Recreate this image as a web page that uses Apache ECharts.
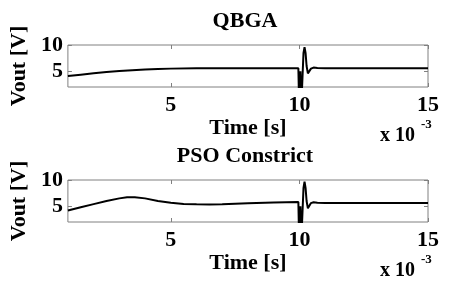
<!DOCTYPE html>
<html><head><meta charset="utf-8">
<script src="https://cdn.jsdelivr.net/npm/echarts@6/dist/echarts.min.js"></script>
<style>html,body{margin:0;padding:0;background:#fff}#c{width:474px;height:284px}</style>
</head><body><div id="c"></div>
<script>
// time in units of 1e-3 s
var qbgaT = [1, 1.5, 2, 2.5, 3, 3.5, 4, 4.5, 5, 6, 7, 8, 9, 9.96, 9.98, 10.0, 10.02, 10.04, 10.06, 10.08, 10.1, 10.13, 10.16, 10.2, 10.24, 10.28, 10.33, 10.38, 10.45, 10.55, 10.7, 11, 12, 13, 14, 15];
var qbgaV = [4.1, 4.35, 4.6, 4.85, 5.05, 5.2, 5.32, 5.42, 5.5, 5.55, 5.55, 5.55, 5.55, 5.55, 1, 5, 1, 5, 1, 4, 1.5, 5, 8.5, 9.6, 8.5, 6, 4.6, 4.9, 5.5, 5.7, 5.6, 5.55, 5.55, 5.55, 5.55, 5.55];
var psoT = [1, 1.5, 2, 2.5, 3, 3.3, 3.6, 4, 4.5, 5, 5.5, 6, 6.5, 7, 8, 9, 9.96, 9.98, 10.0, 10.02, 10.04, 10.06, 10.08, 10.1, 10.13, 10.16, 10.2, 10.24, 10.28, 10.33, 10.38, 10.45, 10.55, 10.7, 11, 12, 13, 14, 15];
var psoV = [4.2, 4.8, 5.4, 6.0, 6.5, 6.72, 6.72, 6.5, 6.0, 5.65, 5.45, 5.38, 5.35, 5.38, 5.55, 5.72, 5.8, 1, 5, 1, 5, 1, 4, 1.5, 5, 8.5, 9.7, 8.5, 6, 4.6, 4.9, 5.6, 5.75, 5.65, 5.62, 5.6, 5.6, 5.6, 5.6];
var xTicks = [5, 10, 15];
var yTicks = [5, 10];
var titles = ['QBGA', 'PSO Constrict'];
var xName = 'Time [s]';
var yName = 'Vout [V]';
var expBase = 'x 10';
var expPow = '-3';

var FONT = '"Liberation Serif", serif';
var GRAY = '#808080';
var gridTops = [45, 180];
var chart = echarts.init(document.getElementById('c'), null, {renderer: 'canvas'});
var grids = [], xAxes = [], yAxes = [], series = [], graphics = [];
var datas = [[qbgaT, qbgaV], [psoT, psoV]];
for (var i = 0; i < 2; i++) {
  grids.push({left: 61, top: gridTops[i], width: 367, height: 42, show: true, borderColor: GRAY, borderWidth: 1, backgroundColor: '#fff'});
  var baseX = {type: 'value', gridIndex: i, min: 1, max: 15,
    axisLine: {show: false}, splitLine: {show: false},
    axisTick: {show: true, inside: true, length: 4, lineStyle: {color: GRAY}, customValues: xTicks}};
  xAxes.push(Object.assign({}, baseX, {position: 'bottom',
    axisLabel: {show: true, customValues: xTicks, color: '#000', fontFamily: FONT, fontWeight: 'bold', fontSize: 22, margin: 7},
    name: xName, nameLocation: 'middle', nameGap: 27,
    nameTextStyle: {color: '#000', fontFamily: FONT, fontWeight: 'bold', fontSize: 22}}));
  xAxes.push(Object.assign({}, baseX, {position: 'top', axisLabel: {show: false}}));
  var baseY = {type: 'value', gridIndex: i, min: 2, max: 10,
    axisLine: {show: false}, splitLine: {show: false},
    axisTick: {show: true, inside: true, length: 4, lineStyle: {color: GRAY}, customValues: yTicks}};
  yAxes.push(Object.assign({}, baseY, {position: 'left',
    axisLabel: {show: true, customValues: yTicks, color: '#000', fontFamily: FONT, fontWeight: 'bold', fontSize: 22, margin: 5},
    name: yName, nameLocation: 'middle', nameGap: 34, nameRotate: 90,
    nameTextStyle: {color: '#000', fontFamily: FONT, fontWeight: 'bold', fontSize: 22}}));
  yAxes.push(Object.assign({}, baseY, {position: 'right', axisLabel: {show: false}}));
  var pts = datas[i][0].map(function (t, k) { return [t, datas[i][1][k]]; });
  series.push({type: 'line', xAxisIndex: 2 * i, yAxisIndex: 2 * i, data: pts, showSymbol: false, symbol: 'none',
    clip: true, lineStyle: {color: '#000', width: 2}, smooth: false, animation: false});
  graphics.push({type: 'text', x: 245, y: gridTops[i] - 35, style: {text: titles[i], font: 'bold 22px ' + FONT, fill: '#000', textAlign: 'center'}});
  graphics.push({type: 'text', x: 380, y: gridTops[i] + 81, style: {text: expBase, font: 'bold 20px ' + FONT, fill: '#000'}});
  graphics.push({type: 'text', x: 421, y: gridTops[i] + 73, style: {text: expPow, font: 'bold 13px ' + FONT, fill: '#000'}});
}
chart.setOption({animation: false, grid: grids, xAxis: xAxes, yAxis: yAxes, series: series, graphic: graphics});
</script></body></html>
